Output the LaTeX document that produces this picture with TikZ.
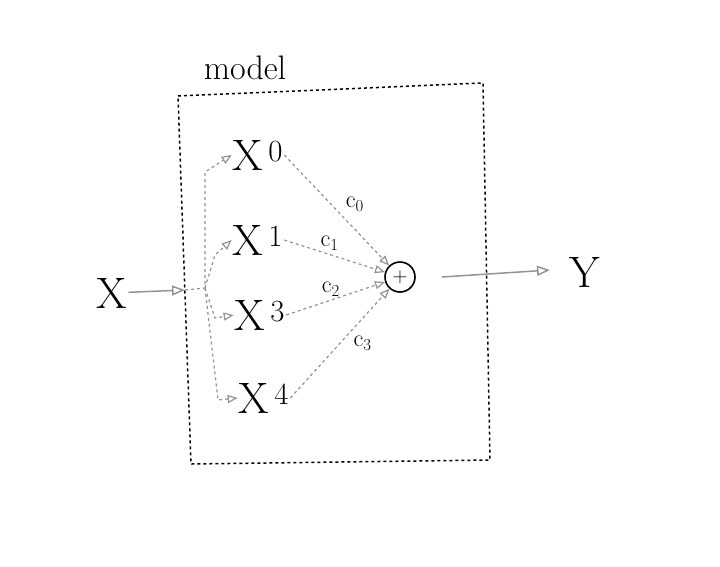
\documentclass[tikz,border=0pt]{standalone}
\usetikzlibrary{arrows.meta}
\begin{document}
\begin{tikzpicture}[x=1pt,y=-1pt,
  lbl/.style={font=\fontsize{44}{46}\selectfont,inner sep=1pt},
  sm/.style={font=\fontsize{24}{26}\selectfont},
  darr/.style={draw=gray!85,dashed,line width=1.2pt,-{Triangle[open,length=10pt,width=8pt]}},
  solidarr/.style={draw=gray!85,line width=1.5pt,-{Triangle[open,length=13pt,width=10pt]}}]
\useasboundingbox (0,0) rectangle (720,566);
\node[font=\fontsize{34}{36}\selectfont] (title) at (245,68) {model};
\draw[dashed,line width=1.5pt] (178,96) -- (483,83) -- (490,460) -- (191,464) -- cycle;
\node[lbl] (x) at (112,293) {X};
\node[lbl] (x0) at (258,155) {X\textsuperscript{\,0}};
\node[lbl] (x1) at (258,240) {X\textsuperscript{\,1}};
\node[lbl] (x3) at (260,315) {X\textsuperscript{\,3}};
\node[lbl] (x4) at (264,398) {X\textsuperscript{\,4}};
\node[draw,circle,line width=1.6pt,minimum size=30pt,inner sep=0pt,font=\fontsize{22}{24}\selectfont] (plus) at (400,277) {$+$};
\node[lbl] (y) at (585,272) {Y};
\coordinate (s) at (185,290);
\coordinate (b) at (205,288);
\coordinate (o1) at (442,277);
\coordinate (o2) at (550,270);
\draw[solidarr] (x) -- (s);
\draw[darr] (s) -- (b) -- (205,172) -- (x0.west);
\draw[darr] (b) -- (215,255) -- (x1.west);
\draw[darr] (b) -- (215,318) -- (x3.west);
\draw[darr] (b) -- (218,400) -- (x4.west);
\draw[darr] (x0.east) -- (plus) node[pos=0.55,above right,sm] (c0) {c\textsubscript{0}};
\draw[darr] (x1.east) -- (plus) node[pos=0.45,above,sm] (c1) {c\textsubscript{1}};
\draw[darr] (x3.east) -- (plus) node[pos=0.45,above,sm] (c2) {c\textsubscript{2}};
\draw[darr] (x4.east) -- (plus) node[pos=0.6,below right,sm] (c3) {c\textsubscript{3}};
\draw[solidarr] (o1) -- (o2);
\end{tikzpicture}
\end{document}
